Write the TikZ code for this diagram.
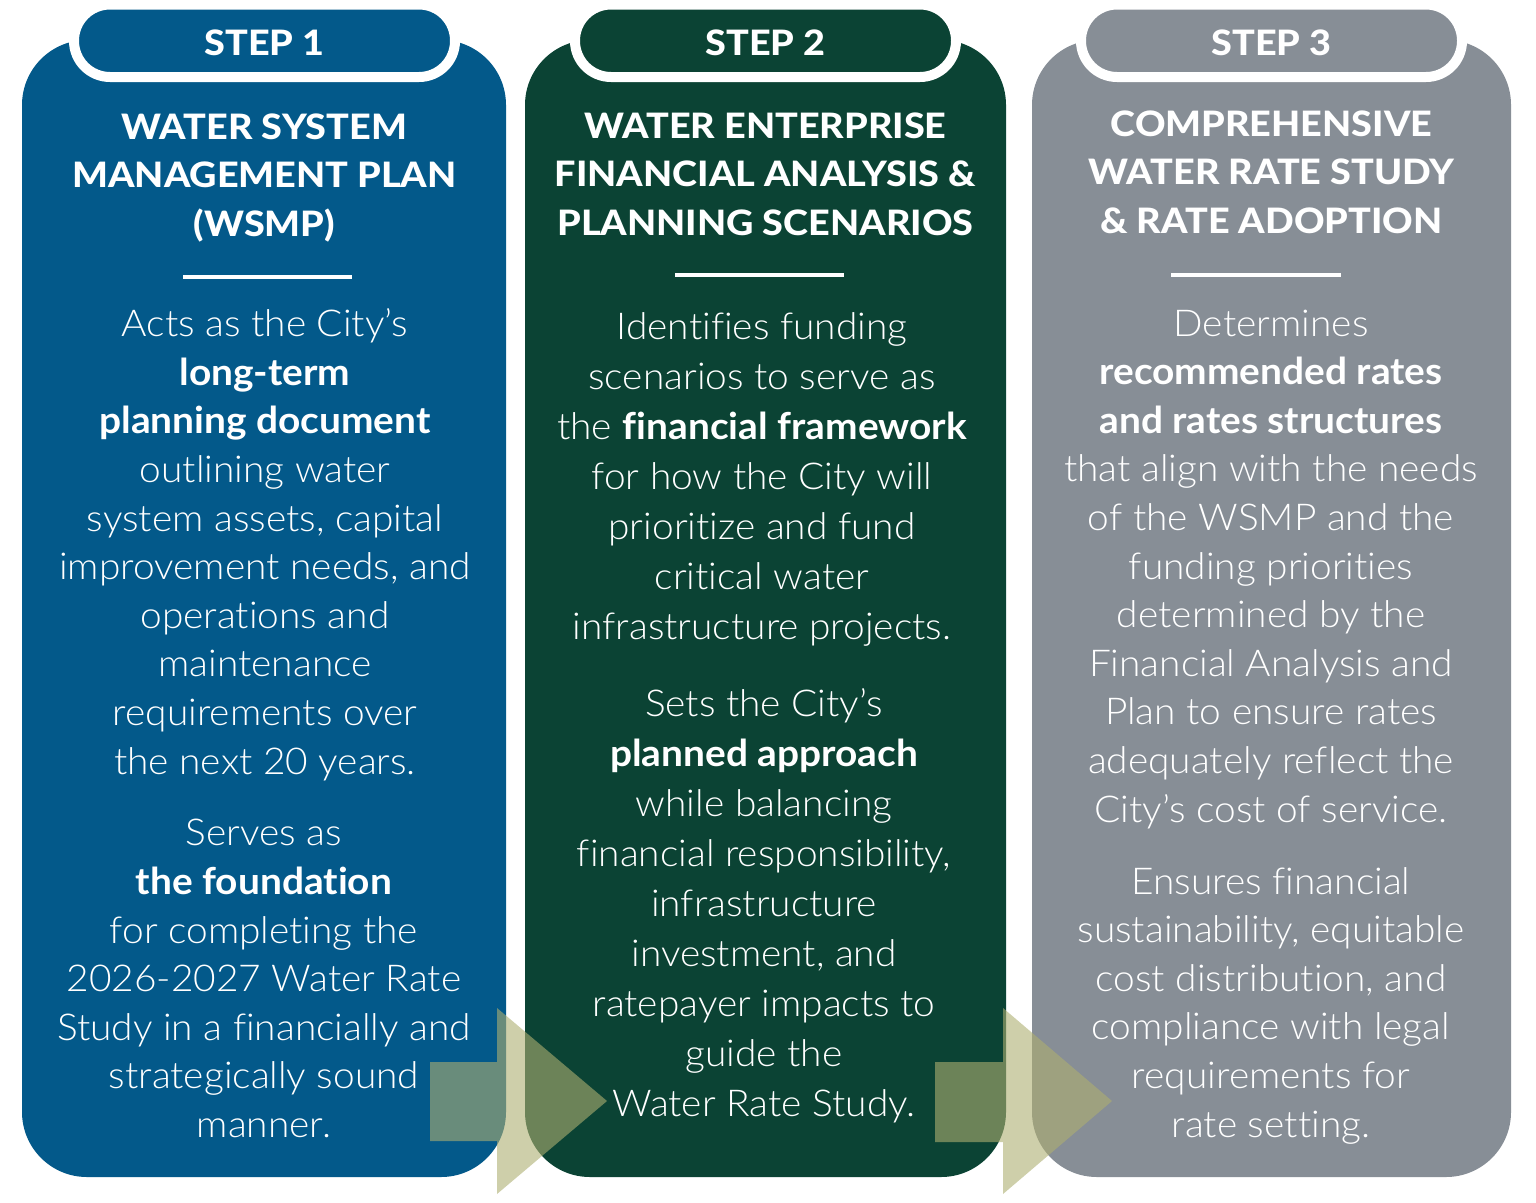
\documentclass[tikz,border=0pt]{standalone}
\usepackage{fontspec}
\setmainfont{Lato}[UprightFont=* Light, BoldFont=* Bold, FakeStretch=1.05, Ligatures=NoCommon]
\newfontfamily\titlefont{Lato Heavy}[FakeStretch=1.08]
\definecolor{cblue}{HTML}{03598A}
\definecolor{cgreen}{HTML}{0B4334}
\definecolor{cgrey}{HTML}{878E96}
\definecolor{carrow}{HTML}{AEAF71}
\tikzset{
  panel/.style={rounded corners=65pt, inner sep=0pt, draw=none},
  tab/.style={draw=white, line width=10pt, rounded corners=36pt},
  steplabel/.style={text=white, font=\titlefont\fontsize{35}{40}\selectfont, anchor=base, inner sep=0pt},
  title/.style={text=white, align=center, font=\titlefont\fontsize{35}{48.5}\selectfont, anchor=base, inner sep=0pt},
  body/.style={text=white, align=center, font=\fontsize{37}{48.6}\selectfont, anchor=base, inner sep=0pt},
  bodyb/.style={body, font=\fontsize{37}{50}\selectfont},
  divider/.style={draw=white, line width=4pt},
  flow/.style={fill=carrow, opacity=0.6, draw=none},
}
\begin{document}
\begin{tikzpicture}[x=1pt, y=-1pt]
\useasboundingbox (0,0) rectangle (1536,1202);
% panels
\fill[panel, fill=cblue] (22,40) rectangle (506,1177);
\fill[panel, fill=cgreen] (525,40) rectangle (1006,1177);
\fill[panel, fill=cgrey] (1032,40) rectangle (1511,1177);
% tabs
\path[tab, fill=cblue] (74,4.5) rectangle (455,77);
\path[tab, fill=cgreen] (575,4.5) rectangle (956,77);
\path[tab, fill=cgrey] (1081,4.5) rectangle (1462,77);
\node[steplabel] (s1) at (264.5,55) {STEP 1};
\node[steplabel] (s2) at (765.5,55) {STEP 2};
\node[steplabel] (s3) at (1271.5,55) {STEP 3};
% arrows
\fill[flow] (430,1062) -- (497,1062) -- (497,1008) -- (607,1101) -- (497,1194) -- (497,1141) -- (430,1141) -- cycle;
\fill[flow] (935,1062) -- (1003,1062) -- (1003,1008) -- (1112,1101) -- (1003,1194) -- (1003,1142) -- (935,1142) -- cycle;
% titles (anchor = baseline of last line)
\node[title] (t1) at (264.5,236) {WATER SYSTEM\\MANAGEMENT PLAN\\(WSMP)};
\node[title] (t2) at (765.5,235) {WATER ENTERPRISE\\FINANCIAL ANALYSIS \&\\PLANNING SCENARIOS};
\node[title] (t3) at (1271.5,233) {COMPREHENSIVE\\WATER RATE STUDY\\\& RATE ADOPTION};
% dividers
\draw[divider] (183,277) -- (352,277);
\draw[divider] (675,275) -- (844,275);
\draw[divider] (1171,275) -- (1341,275);
% body panel 1
\node[body] (b1a) at (265,774) {Acts as the City’s\\\textbf{long-term}\\\textbf{planning document}\\outlining water\\system assets, capital\\improvement needs, and\\operations and\\maintenance\\requirements over\\the next 20 years.};
\node[body] (b1b) at (264,1137.5) {Serves as\\\textbf{the foundation}\\for completing the\\2026-2027 Water Rate\\Study in a financially and\\strategically sound\\manner.};
% body panel 2
\node[bodyb] (b2a) at (762,639) {Identifies funding\\scenarios to serve as\\the \textbf{financial framework}\\for how the City will\\prioritize and fund\\critical water\\infrastructure projects.};
\node[bodyb] (b2b) at (764,1116) {Sets the City’s\\\textbf{planned approach}\\while balancing\\financial responsibility,\\infrastructure\\investment, and\\ratepayer impacts to\\guide the\\Water Rate Study.};
% body panel 3
\node[body] (b3a) at (1271,822) {Determines\\\textbf{recommended rates}\\\textbf{and rates structures}\\that align with the needs\\of the WSMP and the\\funding priorities\\determined by the\\Financial Analysis and\\Plan to ensure rates\\adequately reflect the\\City’s cost of service.};
\node[body] (b3b) at (1271,1137) {Ensures financial\\sustainability, equitable\\cost distribution, and\\compliance with legal\\requirements for\\rate setting.};
\end{tikzpicture}
\end{document}
